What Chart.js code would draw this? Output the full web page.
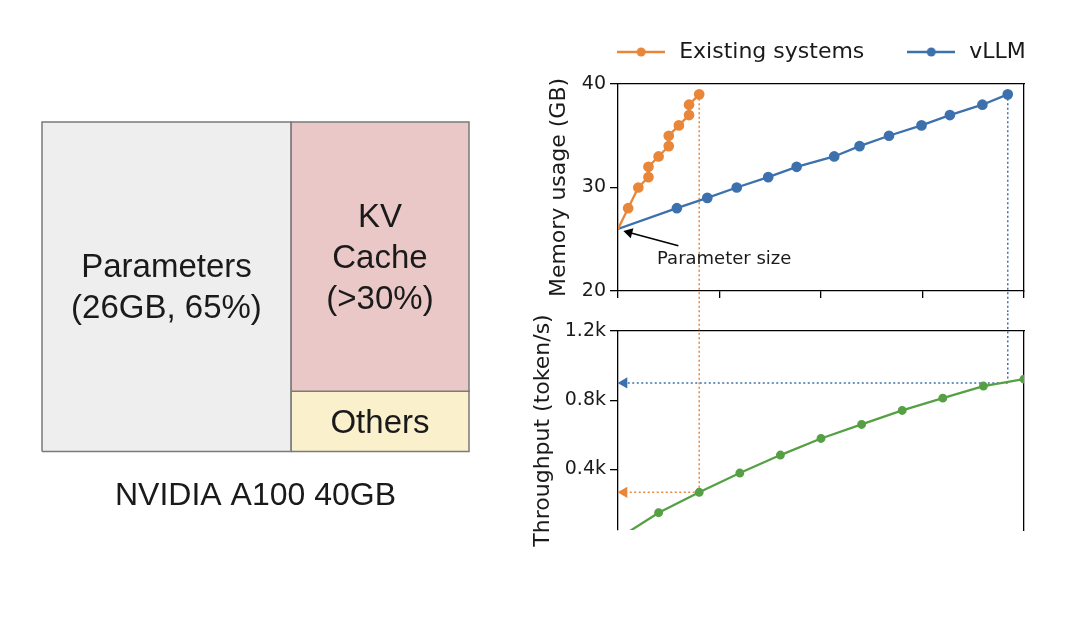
<!DOCTYPE html>
<html>
<head>
<meta charset="utf-8">
<title>KV cache memory</title>
<script src="https://cdn.jsdelivr.net/npm/chart.js@4.4.1/dist/chart.umd.min.js"></script>
<style>
  body { margin: 0; background: #fff; width: 1080px; height: 623px; position: relative; overflow: hidden; }
  canvas { position: absolute; }
  #mem { left: 0; top: 0; }
  #usage { left: 520px; top: 0; }
  #thr { left: 520px; top: 312px; }
</style>
</head>
<body>
<canvas id="mem" width="520" height="623"></canvas>
<canvas id="usage" width="600" height="312"></canvas>
<canvas id="thr" width="600" height="311"></canvas>
<script>
// left box: how the 40GB of the A100 is split (percent of the box)
const cellNames = [['Parameters', '(26GB, 65%)'], ['KV', 'Cache', '(>30%)'], ['Others']]
const cellX0 = [0, 58.3, 58.3]
const cellX1 = [58.3, 100, 100]
const cellY0 = [0, 18.3, 0]
const cellY1 = [100, 100, 18.3]
const cellColors = ['#eeeeee', '#ebc8c8', '#faf0cc']

// memory usage (GB) against batch size
const existingX = [0, 1, 2, 3, 3, 4, 5, 5, 6, 7, 7, 8]
const existingMem = [26, 28, 30, 31, 32, 33, 34, 35, 36, 37, 38, 39]
const vllmX = [0, 5.8, 8.8, 11.7, 14.8, 17.6, 21.3, 23.8, 26.7, 29.9, 32.7, 35.9, 38.4]
const vllmMem = [26, 28, 29, 30, 31, 32, 33, 34, 35, 36, 37, 38, 39]

// throughput (token/s) against batch size
const batchX = [0, 4, 8, 12, 16, 20, 24, 28, 32, 36, 40]
const throughput = [0, 150, 268, 379, 483, 579, 660, 741, 812, 882, 922]

// where each system runs out of memory, and the throughput it gets there
const limitX = [8, 38.4]
const limitThr = [268, 900]

const memTicks = [20, 30, 40]
const thrTicks = [400, 800, 1200]

const ORANGE = '#e8873a'
const BLUE = '#3d71ad'
const GREEN = '#55a044'
const INK = '#1a1a1a'
const tickFont = { family: 'DejaVu Sans', size: 19 }
const titleFont = { family: 'DejaVu Sans', size: 22 }

const xy = (xs, ys) => xs.map((x, i) => ({ x, y: ys[i] }))

// small line+dot picture for the legend
function legendMark(color) {
  const c = document.createElement('canvas')
  c.width = 48; c.height = 12
  const g = c.getContext('2d')
  g.strokeStyle = color; g.lineWidth = 2.5
  g.beginPath(); g.moveTo(0, 6); g.lineTo(48, 6); g.stroke()
  g.fillStyle = color
  g.beginPath(); g.arc(24, 6, 4.5, 0, Math.PI * 2); g.fill()
  return c
}

// axis used only as the box frame (matplotlib look)
function frameAxis(position, min, max, size) {
  return {
    type: 'linear', position, min, max,
    grid: { display: false }, ticks: { display: false },
    border: { display: true, color: '#000', width: 1.3 },
    afterFit: s => { if (s.isHorizontal()) s.height = size; else s.width = size }
  }
}

const guide = (pts, color) => ({
  data: pts, showLine: true, borderColor: color, borderWidth: 1.5, borderDash: [2, 2.5],
  pointRadius: 0, clip: false, order: 5
})
const head = (pt, color, rotation, r) => ({
  data: [pt], pointStyle: 'triangle', pointRadius: r, rotation,
  backgroundColor: color, borderColor: color, borderWidth: 0, clip: false, order: 0
})

// ---- left: memory layout ----
const cellText = {
  id: 'cellText',
  afterDatasetsDraw(chart) {
    const { ctx, scales: { x, y } } = chart
    ctx.save()
    ctx.font = '33px "Liberation Sans"'
    ctx.fillStyle = INK
    ctx.textAlign = 'center'
    ctx.textBaseline = 'middle'
    cellNames.forEach((lines, i) => {
      const cx = x.getPixelForValue((cellX0[i] + cellX1[i]) / 2)
      const cy = y.getPixelForValue((cellY0[i] + cellY1[i]) / 2) + 2
      lines.forEach((t, j) => ctx.fillText(t, cx, cy + (j - (lines.length - 1) / 2) * 41))
    })
    ctx.restore()
  }
}

new Chart(document.getElementById('mem'), {
  type: 'scatter',
  data: {
    datasets: cellNames.map((lines, i) => ({
      label: lines.join(' '),
      data: [
        { x: cellX0[i], y: cellY0[i] }, { x: cellX1[i], y: cellY0[i] },
        { x: cellX1[i], y: cellY1[i] }, { x: cellX0[i], y: cellY1[i] },
        { x: cellX0[i], y: cellY0[i] }
      ],
      showLine: true, fill: 'shape', backgroundColor: cellColors[i],
      borderColor: '#7a7a7a', borderWidth: 1.5, pointRadius: 0, clip: false
    }))
  },
  options: {
    responsive: false, animation: false, events: [],
    layout: { padding: { left: 42, right: 51, top: 122, bottom: 108 } },
    plugins: {
      legend: { display: false },
      tooltip: { enabled: false },
      title: {
        display: true, position: 'bottom', text: 'NVIDIA A100 40GB', color: INK,
        font: { family: 'Liberation Sans', size: 32, weight: 'normal' },
        padding: { top: 25, bottom: 0 }
      }
    },
    scales: {
      x: { display: false, min: 0, max: 100 },
      y: { display: false, min: 0, max: 100 }
    }
  },
  plugins: [cellText]
})

// ---- right top: memory usage ----
const noteText = {
  id: 'noteText',
  afterDatasetsDraw(chart) {
    const { ctx, scales: { x, y } } = chart
    ctx.save()
    ctx.font = '18px "DejaVu Sans"'
    ctx.fillStyle = INK
    ctx.textAlign = 'left'
    ctx.textBaseline = 'middle'
    ctx.fillText('Parameter size', x.getPixelForValue(3.85), y.getPixelForValue(23.1))
    ctx.restore()
  }
}

new Chart(document.getElementById('usage'), {
  type: 'scatter',
  data: {
    datasets: [
      { label: 'Existing systems', data: xy(existingX, existingMem), showLine: true,
        borderColor: ORANGE, backgroundColor: ORANGE, borderWidth: 2.3,
        pointRadius: c => c.dataIndex === 0 ? 0 : 4.2, order: 1 },
      { label: 'vLLM', data: xy(vllmX, vllmMem), showLine: true,
        borderColor: BLUE, backgroundColor: BLUE, borderWidth: 2.3,
        pointRadius: c => c.dataIndex === 0 ? 0 : 4.2, order: 2 },
      guide([{ x: limitX[0], y: existingMem[existingMem.length - 1] }, { x: limitX[0], y: 0 }], ORANGE),
      guide([{ x: limitX[1], y: vllmMem[vllmMem.length - 1] }, { x: limitX[1], y: 0 }], BLUE),
      { data: [{ x: 5.95, y: 24.37 }, { x: 1.1, y: 25.65 }], showLine: true,
        borderColor: '#000', borderWidth: 1.5, pointRadius: 0, order: 0 },
      head({ x: 1.1, y: 25.65 }, '#000', -75, 6)
    ]
  },
  options: {
    responsive: false, animation: false, events: [],
    layout: { padding: { top: 1, right: 0, bottom: 14, left: 0 } },
    plugins: {
      tooltip: { enabled: false },
      legend: {
        position: 'top',
        labels: {
          usePointStyle: true, pointStyleWidth: 54, padding: 40,
          font: { family: 'DejaVu Sans', size: 22 }, color: INK,
          generateLabels: chart => [ORANGE, BLUE].map((col, i) => ({
            text: chart.data.datasets[i].label, pointStyle: legendMark(col),
            fillStyle: col, strokeStyle: col, lineWidth: 0, hidden: false,
            datasetIndex: i, fontColor: INK
          }))
        }
      }
    },
    scales: {
      x: {
        type: 'linear', min: 0, max: 40,
        ticks: { stepSize: 10, display: false },
        grid: { drawOnChartArea: false, tickLength: 7, color: '#000', lineWidth: 1.3 },
        border: { color: '#000', width: 1.3 },
        afterFit: s => { s.height = 7 }
      },
      x2: frameAxis('top', 0, 40, 11),
      y: {
        min: memTicks[0], max: memTicks[memTicks.length - 1],
        afterBuildTicks: s => { s.ticks = memTicks.map(v => ({ value: v })) },
        ticks: { font: tickFont, color: INK, padding: 4 },
        grid: { drawOnChartArea: false, tickLength: 8, color: '#000', lineWidth: 1.3 },
        border: { color: '#000', width: 1.3 },
        title: { display: true, text: 'Memory usage (GB)', font: titleFont, color: INK, padding: { top: 26, bottom: 0 } },
        afterFit: s => { s.width = 98 }
      },
      yr: frameAxis('right', 20, 40, 96)
    }
  },
  plugins: [noteText]
})

// ---- right bottom: throughput ----
new Chart(document.getElementById('thr'), {
  type: 'scatter',
  data: {
    datasets: [
      { label: 'Throughput', data: xy(batchX, throughput), showLine: true,
        borderColor: GREEN, backgroundColor: GREEN, borderWidth: 2.3, pointRadius: 3.3, order: 1 },
      guide([{ x: limitX[0], y: limitThr[0] }, { x: limitX[0], y: 5000 }], ORANGE),
      guide([{ x: limitX[1], y: limitThr[1] }, { x: limitX[1], y: 5000 }], BLUE),
      guide([{ x: limitX[0], y: limitThr[0] }, { x: 0.6, y: limitThr[0] }], ORANGE),
      guide([{ x: limitX[1], y: limitThr[1] }, { x: 0.6, y: limitThr[1] }], BLUE),
      head({ x: 0.6, y: limitThr[0] }, ORANGE, -90, 6.5),
      head({ x: 0.6, y: limitThr[1] }, BLUE, -90, 6.5)
    ]
  },
  options: {
    responsive: false, animation: false, events: [],
    layout: { padding: { top: 18, right: 0, bottom: 93, left: 0 } },
    plugins: { legend: { display: false }, tooltip: { enabled: false } },
    scales: {
      x: { type: 'linear', min: 0, max: 40, display: false },
      x2: frameAxis('top', 0, 40, 1),
      y: {
        min: 50, max: thrTicks[thrTicks.length - 1],
        afterBuildTicks: s => { s.ticks = thrTicks.map(v => ({ value: v })) },
        ticks: { font: tickFont, color: INK, padding: 4, callback: v => (v / 1000) + 'k' },
        grid: { drawOnChartArea: false, tickLength: 8, color: '#000', lineWidth: 1.3 },
        border: { color: '#000', width: 1.3 },
        title: { display: true, text: 'Throughput (token/s)', font: titleFont, color: INK, padding: { top: 10, bottom: 0 } },
        afterFit: s => { s.width = 98 }
      },
      yr: frameAxis('right', 50, 1200, 96)
    }
  }
})
</script>
</body>
</html>
